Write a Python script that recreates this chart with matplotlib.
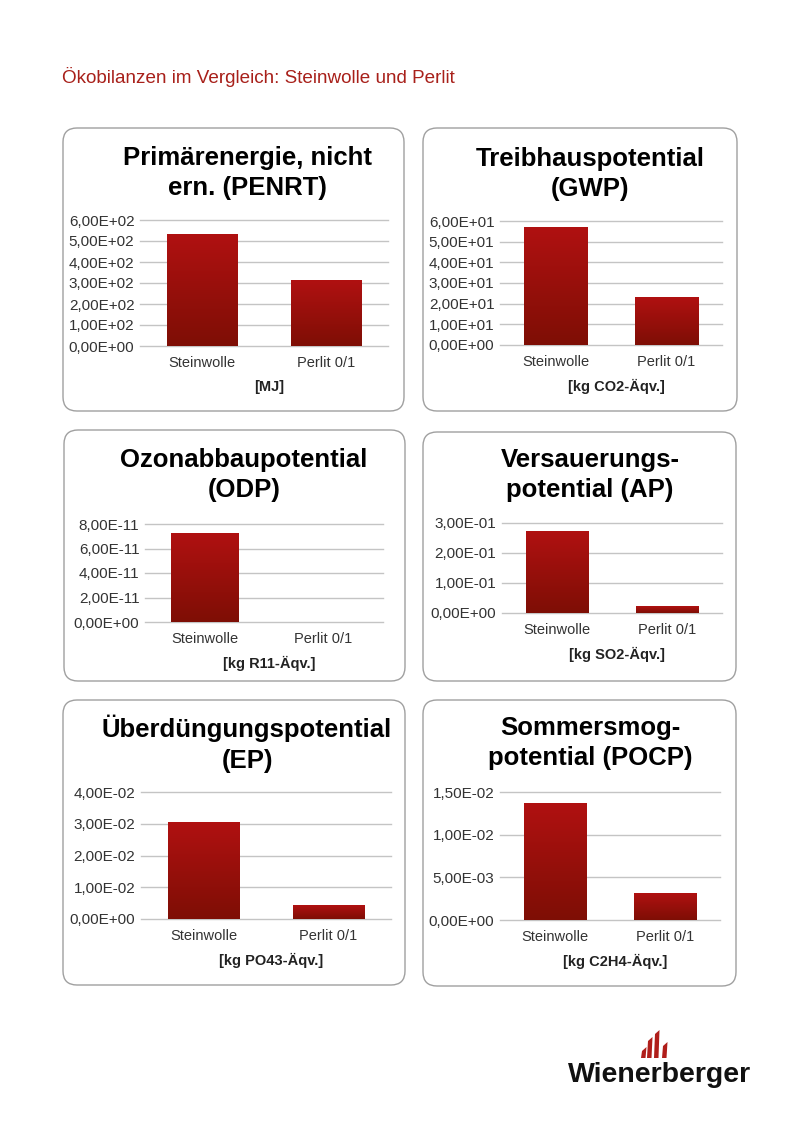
import matplotlib.pyplot as plt
import numpy as np
from matplotlib.colors import LinearSegmentedColormap
from matplotlib.patches import FancyBboxPatch, Polygon
from matplotlib.ticker import FuncFormatter

plt.rcParams["font.family"] = ["Liberation Sans", "DejaVu Sans"]

# data
categories = ["Steinwolle", "Perlit 0/1"]
titles = [
    "Primärenergie, nicht\nern. (PENRT)",
    "Treibhauspotential\n(GWP)",
    "Ozonabbaupotential\n(ODP)",
    "Versauerungs-\npotential (AP)",
    "Überdüngungspotential\n(EP)",
    "Sommersmog-\npotential (POCP)",
]
units = ["[MJ]", "[kg CO2-Äqv.]", "[kg R11-Äqv.]", "[kg SO2-Äqv.]",
         "[kg PO43-Äqv.]", "[kg C2H4-Äqv.]"]
penrt = [533, 310]
gwp = [57.0, 23.2]
odp = [7.25e-11, 0.0]
ap = [0.273, 0.023]
ep = [0.0305, 0.0041]
pocp = [0.0136, 0.00305]
y_max = [600, 60, 8e-11, 0.3, 0.04, 0.015]
y_steps = [6, 6, 4, 3, 4, 3]

series = [penrt, gwp, odp, ap, ep, pocp]

W, H = 800, 1132
DPI = 100

# layout in pixels (left, right, top, bottom)
axes_px = [
    (140, 388, 220, 346),
    (500, 722, 221, 345),
    (145, 383, 524, 622),
    (502, 722, 523, 613),
    (141, 391, 792, 919),
    (500, 720, 792, 920),
]
panels_px = [
    (63, 404, 128, 411),
    (423, 737, 128, 411),
    (64, 405, 430, 681),
    (423, 736, 432, 681),
    (63, 405, 700, 985),
    (423, 736, 700, 986),
]
title_px = [(247, 173), (590, 174), (244, 475), (590, 475), (247, 744), (590, 743)]

RED = "#a8201a"
bar_cmap = LinearSegmentedColormap.from_list("bar", ["#7e0e05", "#b01111"])


def fx(px):
    return px / W


def fy(py):
    return 1 - py / H


def sci_comma(v, _pos):
    return f"{v:.2E}".replace(".", ",")


fig = plt.figure(figsize=(W / DPI, H / DPI), dpi=DPI)
fig.patch.set_facecolor("white")

fig.text(fx(62), fy(77), "Ökobilanzen im Vergleich: Steinwolle und Perlit",
         fontsize=13.6, color=RED, ha="left", va="center")

gradient = np.linspace(0, 1, 256).reshape(-1, 1)

for i, values in enumerate(series):
    # rounded panel frame, drawn in inches so the corners stay round
    l, r, t, b = panels_px[i]
    box = FancyBboxPatch((l / DPI, (H - b) / DPI), (r - l) / DPI, (b - t) / DPI,
                         boxstyle="round,pad=0,rounding_size=0.14",
                         transform=fig.dpi_scale_trans, facecolor="white",
                         edgecolor="#a0a0a0", linewidth=1.0, zorder=-5)
    fig.patches.append(box)

    l, r, t, b = axes_px[i]
    ax = fig.add_axes([fx(l), fy(b), fx(r) - fx(l), fy(t) - fy(b)], zorder=2)
    ax.set_facecolor("none")

    x = np.arange(len(categories))
    bars = ax.bar(x, values, width=0.57, color="none", zorder=2)
    for patch in bars:
        bx, by = patch.get_x(), patch.get_y()
        bw, bh = patch.get_width(), patch.get_height()
        if bh <= 0:
            continue
        ax.imshow(gradient, cmap=bar_cmap, origin="lower", aspect="auto",
                  extent=(bx, bx + bw, by, by + bh), zorder=2)

    ax.set_xlim(-0.5, len(categories) - 0.5)
    ax.set_ylim(0, y_max[i])
    ax.set_yticks(np.linspace(0, y_max[i], y_steps[i] + 1))
    ax.yaxis.set_major_formatter(FuncFormatter(sci_comma))
    ax.set_xticks(x)
    ax.set_xticklabels(categories)
    ax.tick_params(axis="x", length=0, pad=7, labelsize=10.5, labelcolor="#333333")
    ax.tick_params(axis="y", length=0, pad=4, labelsize=11, labelcolor="#333333")
    ax.grid(axis="y", color="#c4c4c4", linewidth=1.0, zorder=0)
    ax.set_axisbelow(True)
    for gl in ax.get_ygridlines():
        gl.set_clip_on(False)
    for side in ax.spines.values():
        side.set_visible(False)

    tx, ty = title_px[i]
    fig.text(fx(tx), fy(ty), titles[i], fontsize=18.5, fontweight="bold",
             ha="center", va="center", linespacing=1.35, color="black", zorder=3)
    fig.text(fx((l + r) / 2 + 5), fy(b + 41), units[i], fontsize=10.5,
             fontweight="bold", ha="center", va="center", color="#222222", zorder=3)

# Wienerberger logo
logo_bars = [(641, 1047), (647, 1037), (654, 1030), (662, 1042)]
for x0, top in logo_bars:
    pts = [(x0, 1058), (x0 + 4.5, 1058), (x0 + 5.5, top), (x0 + 1, top + 4)]
    poly = Polygon([(fx(px), fy(py)) for px, py in pts], closed=True,
                   transform=fig.transFigure, facecolor="#b01e1a",
                   edgecolor="none", zorder=3)
    fig.patches.append(poly)
fig.text(fx(660), fy(1075), "Wienerberger", fontsize=20.5, fontweight="bold",
         ha="center", va="center", color="#111111", zorder=3)

fig.savefig("out.png", dpi=DPI)
